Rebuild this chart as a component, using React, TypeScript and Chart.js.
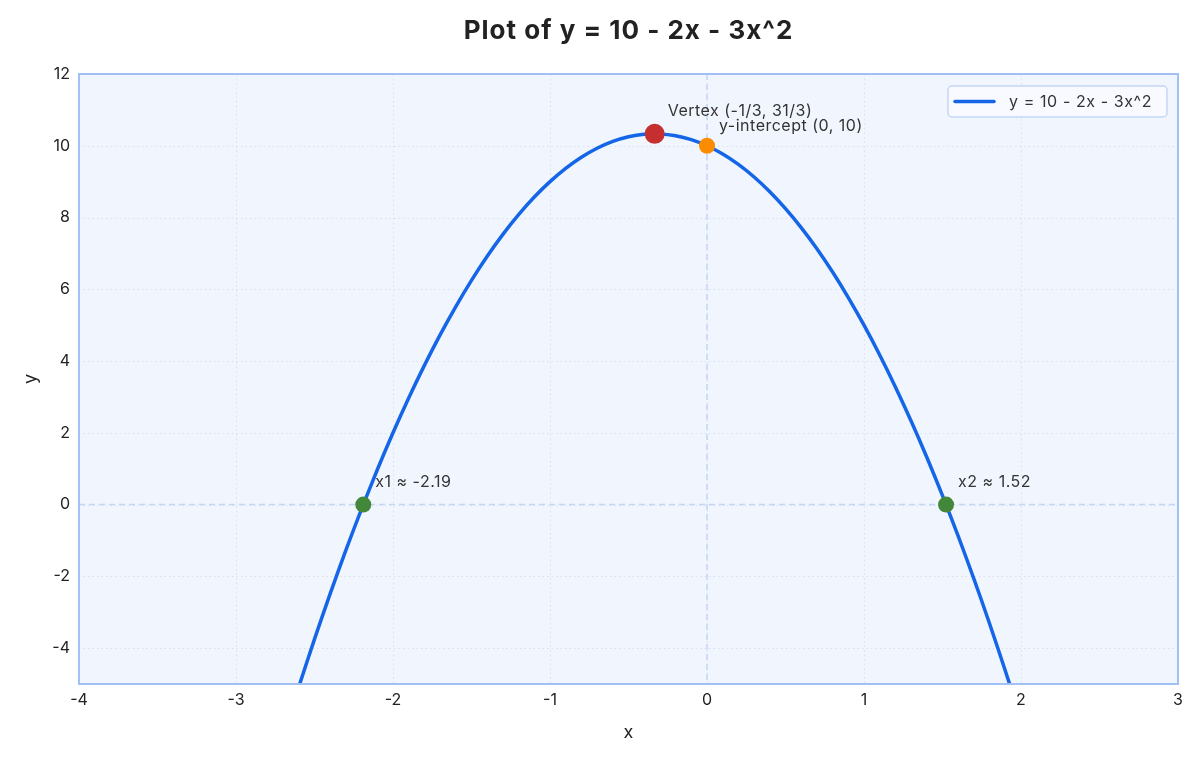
import React, { useEffect, useRef } from "react";
import { Chart, registerables } from "chart.js";

Chart.register(...registerables);

const TITLE = "Plot of y = 10 - 2x - 3x^2";
const SERIES_LABEL = "y = 10 - 2x - 3x^2";
const X_TITLE = "x";
const Y_TITLE = "y";
const X_TICKS = [-4, -3, -2, -1, 0, 1, 2, 3];
const Y_TICKS = [-4, -2, 0, 2, 4, 6, 8, 10, 12];

const CURVE_X = [
  -2.8, -2.7, -2.6, -2.5, -2.4, -2.3, -2.2, -2.1, -2.0, -1.9, -1.8, -1.7, -1.6, -1.5, -1.4, -1.3, -1.2,
  -1.1, -1.0, -0.9, -0.8, -0.7, -0.6, -0.5, -0.4, -0.3, -0.2, -0.1, 0, 0.1, 0.2, 0.3, 0.4, 0.5, 0.6,
  0.7, 0.8, 0.9, 1.0, 1.1, 1.2, 1.3, 1.4, 1.5, 1.6, 1.7, 1.8, 1.9, 2.0, 2.1,
];
const CURVE_Y = [
  -7.92, -6.47, -5.08, -3.75, -2.48, -1.27, -0.12, 0.97, 2.0, 2.97, 3.88, 4.73, 5.52, 6.25, 6.92, 7.53,
  8.08, 8.57, 9.0, 9.37, 9.68, 9.93, 10.12, 10.25, 10.32, 10.33, 10.28, 10.17, 10.0, 9.77, 9.48, 9.13,
  8.72, 8.25, 7.72, 7.13, 6.48, 5.77, 5.0, 4.17, 3.28, 2.33, 1.32, 0.25, -0.88, -2.07, -3.32, -4.63,
  -6.0, -7.43,
];

const MARK_X = [-0.3333, 0, -2.1893, 1.5226];
const MARK_Y = [10.3333, 10, 0, 0];
const MARK_LABELS = ["Vertex (-1/3, 31/3)", "y-intercept (0, 10)", "x1 ≈ -2.19", "x2 ≈ 1.52"];
const MARK_COLORS = ["#c62f2f", "#fb8c00", "#43883a", "#43883a"];
const MARK_RADII = [10, 8, 8, 8];

const FONT = "Inter, 'DejaVu Sans', sans-serif";
const LINE_COLOR = "#1565e8";

const decorPlugin = {
  id: "decor",
  beforeDatasetsDraw(chart: any) {
    const { ctx, chartArea: a, scales } = chart;
    const xs = scales.x;
    const ys = scales.y;
    ctx.save();
    ctx.fillStyle = "#f1f6fe";
    ctx.fillRect(a.left, a.top, a.right - a.left, a.bottom - a.top);
    ctx.strokeStyle = "#d9e1ee";
    ctx.lineWidth = 1;
    ctx.setLineDash([1.5, 3]);
    X_TICKS.forEach((v) => {
      const px = Math.round(xs.getPixelForValue(v)) + 0.5;
      ctx.beginPath();
      ctx.moveTo(px, a.top);
      ctx.lineTo(px, a.bottom);
      ctx.stroke();
    });
    Y_TICKS.forEach((v) => {
      const py = Math.round(ys.getPixelForValue(v)) + 0.5;
      ctx.beginPath();
      ctx.moveTo(a.left, py);
      ctx.lineTo(a.right, py);
      ctx.stroke();
    });
    ctx.strokeStyle = "#c3d6f6";
    ctx.lineWidth = 1.5;
    ctx.setLineDash([6, 4]);
    const x0 = xs.getPixelForValue(0);
    const y0 = ys.getPixelForValue(0);
    ctx.beginPath();
    ctx.moveTo(x0, a.top);
    ctx.lineTo(x0, a.bottom);
    ctx.stroke();
    ctx.beginPath();
    ctx.moveTo(a.left, y0);
    ctx.lineTo(a.right, y0);
    ctx.stroke();
    ctx.restore();
  },
  afterDraw(chart: any) {
    const { ctx, chartArea: a, scales } = chart;
    const xs = scales.x;
    const ys = scales.y;
    ctx.save();
    ctx.strokeStyle = "#a0c0f6";
    ctx.lineWidth = 2;
    ctx.setLineDash([]);
    ctx.strokeRect(a.left, a.top, a.right - a.left, a.bottom - a.top);
    // title
    ctx.fillStyle = "#222222";
    ctx.font = `bold 26px ${FONT}`;
    (ctx as any).letterSpacing = "1px";
    ctx.textAlign = "center";
    ctx.textBaseline = "middle";
    ctx.fillText(TITLE, (a.left + a.right) / 2, 31);
    // axis titles
    (ctx as any).letterSpacing = "0px";
    ctx.font = `18px ${FONT}`;
    ctx.fillText(X_TITLE, (a.left + a.right) / 2, 733);
    ctx.save();
    ctx.translate(31, (a.top + a.bottom) / 2);
    ctx.rotate(-Math.PI / 2);
    ctx.fillText(Y_TITLE, 0, 0);
    ctx.restore();
    // annotations
    ctx.font = `16px ${FONT}`;
    (ctx as any).letterSpacing = "0.5px";
    ctx.fillStyle = "#333333";
    ctx.textAlign = "left";
    ctx.textBaseline = "middle";
    const offs = [
      [13, -23],
      [12, -20],
      [12, -22],
      [12, -22],
    ];
    MARK_LABELS.forEach((t, i) => {
      const px = xs.getPixelForValue(MARK_X[i]);
      const py = ys.getPixelForValue(MARK_Y[i]);
      ctx.fillText(t, px + offs[i][0], py + offs[i][1]);
    });
    // legend
    const bx = a.right - 230;
    const by = a.top + 12;
    const bw = 219;
    const bh = 31;
    (ctx as any).letterSpacing = "0px";
    ctx.fillStyle = "rgba(248,251,255,0.9)";
    ctx.strokeStyle = "#c3d6f6";
    ctx.lineWidth = 1.5;
    ctx.beginPath();
    (ctx as any).roundRect(bx, by, bw, bh, 4);
    ctx.fill();
    ctx.stroke();
    ctx.strokeStyle = LINE_COLOR;
    ctx.lineWidth = 3.5;
    ctx.lineCap = "round";
    ctx.beginPath();
    ctx.moveTo(bx + 7, by + bh / 2);
    ctx.lineTo(bx + 46, by + bh / 2);
    ctx.stroke();
    ctx.fillStyle = "#333333";
    ctx.font = `16px ${FONT}`;
    (ctx as any).letterSpacing = "0.6px";
    ctx.fillText(SERIES_LABEL, bx + 61, by + bh / 2 + 1);
    ctx.restore();
  },
};

export default function App() {
  const ref = useRef<HTMLCanvasElement | null>(null);
  useEffect(() => {
    if (!ref.current) return;
    const curve = CURVE_X.map((x, i) => ({ x, y: CURVE_Y[i] }));
    const marks = MARK_X.map((x, i) => ({ x, y: MARK_Y[i] }));
    const chart = new Chart(ref.current, {
      type: "scatter",
      data: {
        datasets: [
          {
            label: "marks",
            data: marks,
            showLine: false,
            pointRadius: MARK_RADII,
            pointBackgroundColor: MARK_COLORS,
            pointBorderColor: MARK_COLORS,
            pointBorderWidth: 0,
            order: 0,
          } as any,
          {
            label: SERIES_LABEL,
            data: curve,
            showLine: true,
            borderColor: LINE_COLOR,
            borderWidth: 3.5,
            pointRadius: 0,
            tension: 0.3,
            order: 1,
          } as any,
        ],
      },
      options: {
        animation: false,
        responsive: false,
        maintainAspectRatio: false,
        layout: { padding: { top: 74, right: 22, left: 0, bottom: 0 } },
        plugins: {
          legend: { display: false },
          title: { display: false },
          tooltip: { enabled: false },
        },
        scales: {
          x: {
            type: "linear",
            min: -4,
            max: 3,
            afterBuildTicks: (s: any) => {
              s.ticks = X_TICKS.map((v) => ({ value: v }));
            },
            afterFit: (s: any) => {
              s.height = 77;
            },
            grid: { display: false, drawTicks: false },
            border: { display: false },
            ticks: { color: "#222", font: { family: FONT, size: 16 }, padding: 7, maxRotation: 0 },
            title: { display: false },
          },
          y: {
            type: "linear",
            min: -5,
            max: 12,
            afterBuildTicks: (s: any) => {
              s.ticks = Y_TICKS.map((v) => ({ value: v }));
            },
            afterFit: (s: any) => {
              s.width = 79;
            },
            grid: { display: false, drawTicks: false },
            border: { display: false },
            ticks: { color: "#222", font: { family: FONT, size: 16 }, padding: 9 },
            title: { display: false },
          },
        },
      } as any,
      plugins: [decorPlugin],
    });
    return () => chart.destroy();
  }, []);
  return (
    <div style={{ position: "fixed", left: 0, top: 0, width: 1200, height: 761, background: "#fff" }}>
      <canvas ref={ref} width={1200} height={761} style={{ width: 1200, height: 761 }} />
    </div>
  );
}
